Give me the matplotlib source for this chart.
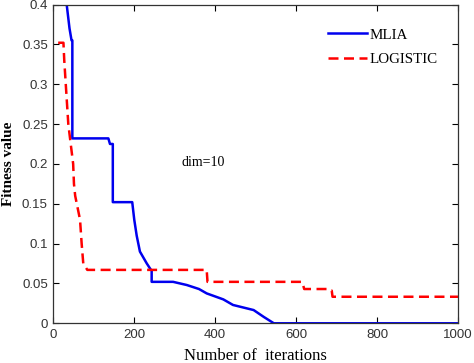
import matplotlib
matplotlib.use("Agg")
import matplotlib.pyplot as plt

# MLIA convergence curve (iteration, fitness)
mlia_x = [0, 33, 40, 45, 47, 47, 136, 140, 147, 147, 195, 200, 206, 214, 231, 240, 243, 243,
          296, 330, 360, 379, 420, 444, 495, 520, 545, 1000]
mlia_y = [0.42, 0.40, 0.37, 0.355, 0.355, 0.232, 0.232, 0.225, 0.225, 0.152, 0.152, 0.13,
          0.11, 0.09, 0.075, 0.068, 0.066, 0.052, 0.052, 0.048, 0.043, 0.0375, 0.03, 0.023,
          0.0166, 0.008, 0.0, 0.0]

# LOGISTIC convergence curve
log_x = [12, 25, 27, 37, 49, 51, 54, 66, 70, 74, 84, 379, 381, 615, 620, 680, 684, 688, 690, 1000]
log_y = [0.352, 0.352, 0.33, 0.25, 0.2, 0.175, 0.16, 0.13, 0.1, 0.075, 0.067, 0.067, 0.052,
         0.052, 0.043, 0.043, 0.041, 0.041, 0.0333, 0.0333]

xticks = [0, 200, 400, 600, 800, 1000]
yticks = [0, 0.05, 0.1, 0.15, 0.2, 0.25, 0.3, 0.35, 0.4]
ytick_labels = ["0", "0.05", "0.1", "0.15", "0.2", "0.25", "0.3", "0.35", "0.4"]

fig = plt.figure(figsize=(4.74, 3.63), dpi=100)
ax = fig.add_axes([0.1125, 0.1094, 0.8537, 0.8782])

ax.plot(mlia_x, mlia_y, color="#0000ee", lw=1.8, label="MLIA")
ax.plot(log_x, log_y, color="#ff0000", lw=1.8, ls=(0, (4, 2.2)), label="LOGISTIC")

ax.set_xlim(0, 1000)
ax.set_ylim(0, 0.4)
ax.set_xticks(xticks)
ax.set_yticks(yticks)
ax.set_yticklabels(ytick_labels)
ax.tick_params(direction="in", top=True, right=True, length=4, width=0.8,
               labelsize=9.5, labelcolor="#333333", pad=4)
for lab in ax.get_xticklabels() + ax.get_yticklabels():
    lab.set_family("Liberation Sans")
for s in ax.spines.values():
    s.set_linewidth(0.9)
    s.set_color("#333333")

ax.set_xlabel("Number of  iterations", family="Liberation Serif", fontsize=12, labelpad=5)
ax.set_ylabel("Fitness value", family="Liberation Serif", fontsize=11, fontweight="bold", labelpad=5)

ax.text(370, 0.202, "dim=10", family="Liberation Serif", fontsize=10, ha="center", va="center")

leg = ax.legend(loc="upper right", bbox_to_anchor=(0.965, 0.945), frameon=False,
                prop={"family": "Liberation Serif", "size": 10.8}, handlelength=2.6,
                handletextpad=0.15, labelspacing=0.75, borderaxespad=0)

fig.savefig("out.png", dpi=100)
